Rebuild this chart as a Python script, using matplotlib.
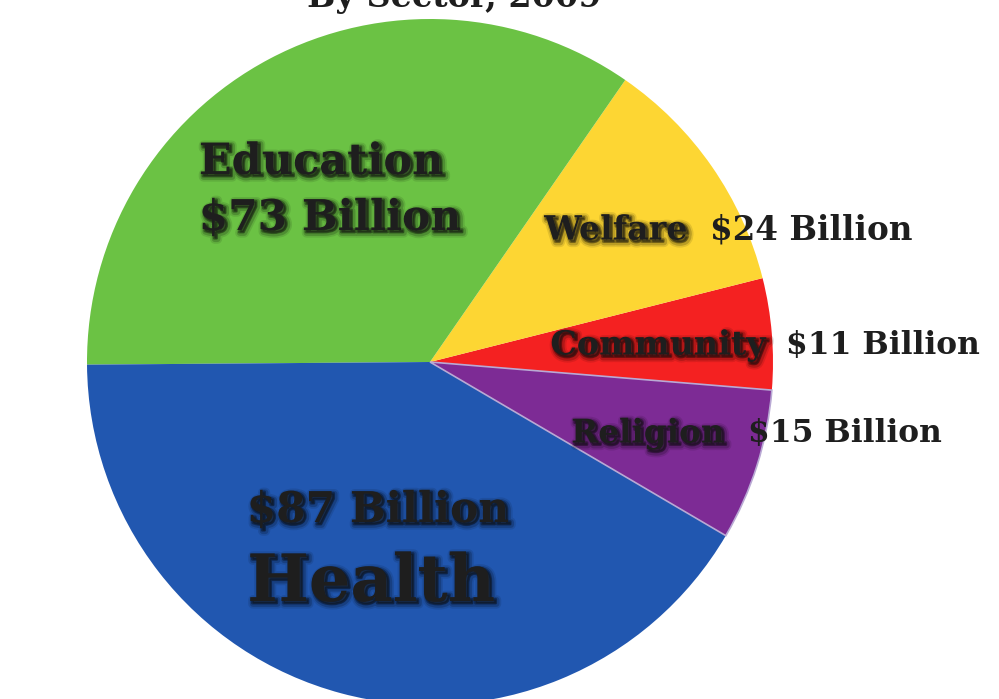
import matplotlib.pyplot as plt
import matplotlib.patheffects as pe

# giving by sector, 2009 (billions of dollars)
sectors = ["Community", "Welfare", "Education", "Health", "Religion"]
amounts = [11, 24, 73, 87, 15]
colors = ["#f42121", "#fdd633", "#6bc244", "#2157b0", "#7d2b95"]

W, H = 999, 699
fig = plt.figure(figsize=(W / 100, H / 100), dpi=100)
ax = fig.add_axes([0, 0, 1, 1])

cx, cy, r = 430, H - 362, 343
wedges, _ = ax.pie(amounts, colors=colors, startangle=-4.7, counterclock=True,
                   center=(cx, cy), radius=r, frame=True)
ax.set_xlim(0, W)
ax.set_ylim(0, H)
ax.axis("off")
# light seam where religion meets health
wedges[4].set_edgecolor("#b9a9d4")
wedges[4].set_linewidth(1.2)

font = "DejaVu Serif"
ink = "#1e1e1e"
# soft blurred drop shadow built from a few translucent strokes
shadow = [pe.Stroke(linewidth=7, foreground="black", alpha=0.10, offset=(2, -2)),
          pe.Stroke(linewidth=4.5, foreground="black", alpha=0.18, offset=(2, -2)),
          pe.Stroke(linewidth=2, foreground="black", alpha=0.35, offset=(1.5, -1.5)),
          pe.Normal()]


def label(x, y, s, size, fx=None):
    ax.text(x, H - y, s, fontsize=size, fontweight="bold", family=font,
            color=ink, ha="center", va="center", path_effects=fx)


label(454, -3, "By Sector, 2009", 24)
label(321, 162, "Education", 31, shadow)
label(330, 218, "$73 Billion", 30.5, shadow)
label(616, 230, "Welfare", 24, shadow)
label(811, 230, "$24 Billion", 23.5)
label(658, 345, "Community", 24, shadow)
label(883, 345, "$11 Billion", 22.5)
label(648, 433, "Religion", 23.5, shadow)
label(845, 433, "$15 Billion", 22.5)
label(378, 510, "$87 Billion", 30.5, shadow)
label(371, 583, "Health", 47, shadow)

fig.savefig("out.png", dpi=100)
